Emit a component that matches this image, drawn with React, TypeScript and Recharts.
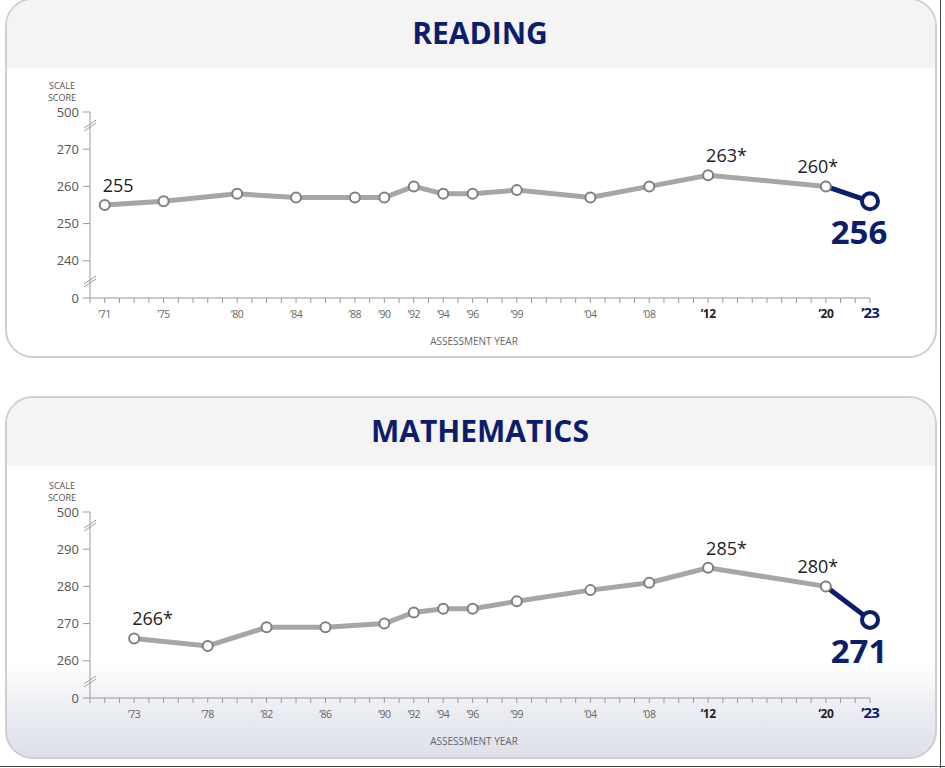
import React from "react";
import { LineChart, Line, XAxis, YAxis, ReferenceLine } from "recharts";

const readingYears = [1971, 1975, 1980, 1984, 1988, 1990, 1992, 1994, 1996, 1999, 2004, 2008, 2012, 2020, 2023];
const readingScores = [255, 256, 258, 257, 257, 257, 260, 258, 258, 259, 257, 260, 263, 260, 256];
const readingPointLabels = ["255", "", "", "", "", "", "", "", "", "", "", "", "263*", "260*", "256"];
const readingYearLabels = ["’71", "’75", "’80", "’84", "’88", "’90", "’92", "’94", "’96", "’99", "’04", "’08", "’12", "’20", "’23"];
const readingYTicks = [230, 240, 250, 260, 270, 280];
const readingYTickLabels = ["0", "240", "250", "260", "270", "500"];

const mathYears = [1973, 1978, 1982, 1986, 1990, 1992, 1994, 1996, 1999, 2004, 2008, 2012, 2020, 2023];
const mathScores = [266, 264, 269, 269, 270, 273, 274, 274, 276, 279, 281, 285, 280, 271];
const mathPointLabels = ["266*", "", "", "", "", "", "", "", "", "", "", "285*", "280*", "271"];
const mathYearLabels = ["’73", "’78", "’82", "’86", "’90", "’92", "’94", "’96", "’99", "’04", "’08", "’12", "’20", "’23"];
const mathYTicks = [250, 260, 270, 280, 290, 300];
const mathYTickLabels = ["0", "260", "270", "280", "290", "500"];

const FIRST_YEAR = 1970;
const LAST_YEAR = 2023;

const NAVY = "#0b1d6b";
const GRAY_LINE = "#a6a6a6";
const FONT = "'Open Sans', sans-serif";

const allYears = Array.from({ length: LAST_YEAR - FIRST_YEAR + 1 }, (_, i) => FIRST_YEAR + i);

function BreakMark(props: any) {
  const x = props.x1;
  const y = props.y1;
  return (
    <g>
      <polygon points={`${x - 6},${y + 5} ${x + 6},${y - 3} ${x + 6},${y - 6} ${x - 6},${y + 2}`} fill="#fff" />
      <line x1={x - 6} y1={y + 5} x2={x + 6} y2={y - 3} stroke="#999" strokeWidth={1} />
      <line x1={x - 6} y1={y + 2} x2={x + 6} y2={y - 6} stroke="#999" strokeWidth={1} />
    </g>
  );
}

function TrendChart({ years, scores, pointLabels, yearLabels, yTicks, yTickLabels }: any) {
  const n = years.length;
  const data = years.map((year: number, i: number) => ({
    year,
    past: i < n - 1 ? scores[i] : null,
    recent: i >= n - 2 ? scores[i] : null,
  }));
  const [yMin, yMax] = [yTicks[0], yTicks[yTicks.length - 1]];

  const XTick = (p: any) => {
    const i = years.indexOf(p.payload.value);
    if (i < 0) return <g />;
    const isLast = i === n - 1;
    const strong = i >= n - 3;
    return (
      <text
        x={p.x}
        y={p.y + 13}
        textAnchor="middle"
        fontFamily={FONT}
        fontSize={isLast ? 15 : strong ? 12 : 10.5}
        fontWeight={strong ? 700 : 400}
        fill={isLast ? NAVY : strong ? "#222" : "#666"}
        letterSpacing={isLast ? -1 : -0.5}
      >
        {yearLabels[i]}
      </text>
    );
  };

  const pastLabel = (p: any) => {
    const txt = pointLabels[p.index];
    if (!txt || p.index >= n - 1) return <g key={`l${p.index}`} />;
    const beforeLast = p.index === n - 2;
    return (
      <text
        key={`l${p.index}`}
        x={beforeLast ? p.x - 8 : p.x - 2}
        y={p.y - 13}
        textAnchor={beforeLast ? "middle" : "start"}
        fontFamily={FONT}
        fontSize={18}
        fill="#222"
      >
        {txt}
      </text>
    );
  };

  const recentLabel = (p: any) => {
    if (p.index !== n - 1) return <g key={`r${p.index}`} />;
    return (
      <text
        key={`r${p.index}`}
        x={p.x - 11}
        y={p.y + 43}
        textAnchor="middle"
        fontFamily={FONT}
        fontSize={33}
        fontWeight={700}
        fill={NAVY}
      >
        {pointLabels[p.index]}
      </text>
    );
  };

  const recentDot = (p: any) => {
    if (p.index !== n - 1) return <g key={`d${p.index}`} />;
    return <circle key={`d${p.index}`} cx={p.cx} cy={p.cy} r={8} fill="#fff" stroke={NAVY} strokeWidth={4} />;
  };

  return (
    <LineChart width={945} height={360} data={data} margin={{ top: 112, right: 75, bottom: 0, left: 0 }}>
      <XAxis
        dataKey="year"
        type="number"
        domain={[FIRST_YEAR, LAST_YEAR]}
        ticks={allYears}
        interval={0}
        height={62}
        tick={XTick}
        tickSize={5}
        axisLine={{ stroke: "#999" }}
        tickLine={{ stroke: "#999" }}
      />
      <YAxis
        type="number"
        domain={[yMin, yMax]}
        ticks={yTicks}
        interval={0}
        width={90}
        tickSize={7}
        tickMargin={4}
        tickFormatter={(v: number) => yTickLabels[yTicks.indexOf(v)]}
        tick={{ fontFamily: FONT, fontSize: 13, fill: "#555" }}
        axisLine={{ stroke: "#999" }}
        tickLine={{ stroke: "#999" }}
      />
      <ReferenceLine y={yMax - 3.8} stroke="none" shape={BreakMark} />
      <ReferenceLine y={yMin + 4.3} stroke="none" shape={BreakMark} />
      <Line
        dataKey="recent"
        stroke={NAVY}
        strokeWidth={5}
        dot={recentDot}
        activeDot={false}
        label={recentLabel}
        isAnimationActive={false}
        connectNulls={false}
      />
      <Line
        dataKey="past"
        stroke={GRAY_LINE}
        strokeWidth={5}
        dot={{ r: 5, fill: "#fff", stroke: "#7f7f7f", strokeWidth: 2 }}
        activeDot={false}
        label={pastLabel}
        isAnimationActive={false}
        connectNulls={false}
      />
    </LineChart>
  );
}

function Panel({ top, height, title, gradient }: any) {
  return (
    <div
      style={{
        position: "absolute",
        left: 5,
        top,
        width: 928,
        height,
        border: "2px solid #cfcfcf",
        borderRadius: 28,
        overflow: "hidden",
        background: gradient
          ? "linear-gradient(to bottom, #fff 0%, #fff 74%, #eceef3 86%, #dde0ea 100%)"
          : "#fff",
      }}
    >
      <div style={{ height: 68, background: "#f4f4f4" }} />
      <div
        style={{
          position: "absolute",
          left: 273,
          top: 13,
          width: 400,
          textAlign: "center",
          fontFamily: FONT,
          fontWeight: 700,
          fontSize: 30,
          lineHeight: "40px",
          color: NAVY,
          letterSpacing: 0,
        }}
      >
        {title}
      </div>
    </div>
  );
}

const smallText = {
  position: "absolute" as const,
  textAlign: "center" as const,
  fontFamily: FONT,
  color: "#555",
};

function AxisTitles({ top }: { top: number }) {
  return (
    <>
      <div style={{ ...smallText, left: 37, top: top + 80, width: 50, fontSize: 9, lineHeight: "12px" }}>SCALE</div>
      <div style={{ ...smallText, left: 37, top: top + 92, width: 50, fontSize: 9, lineHeight: "12px" }}>SCORE</div>
      <div style={{ ...smallText, left: 374, top: top + 334, width: 200, fontSize: 10, color: "#666" }}>
        ASSESSMENT YEAR
      </div>
    </>
  );
}

export default function App() {
  return (
    <div style={{ position: "absolute", left: 0, top: 0, width: 945, height: 768, overflow: "hidden", background: "#fff" }}>
      <Panel top={-2} height={356} title="READING" />
      <Panel top={396} height={359} title="MATHEMATICS" gradient />
      <AxisTitles top={0} />
      <AxisTitles top={400} />
      <div style={{ position: "absolute", left: 0, top: 0 }}>
        <TrendChart
          years={readingYears}
          scores={readingScores}
          pointLabels={readingPointLabels}
          yearLabels={readingYearLabels}
          yTicks={readingYTicks}
          yTickLabels={readingYTickLabels}
        />
      </div>
      <div style={{ position: "absolute", left: 0, top: 400 }}>
        <TrendChart
          years={mathYears}
          scores={mathScores}
          pointLabels={mathPointLabels}
          yearLabels={mathYearLabels}
          yTicks={mathYTicks}
          yTickLabels={mathYTickLabels}
        />
      </div>
      <div style={{ position: "absolute", left: 940, top: 0, width: 1, height: 768, background: "#444" }} />
      <div style={{ position: "absolute", left: 0, top: 766, width: 945, height: 1, background: "#444" }} />
    </div>
  );
}
